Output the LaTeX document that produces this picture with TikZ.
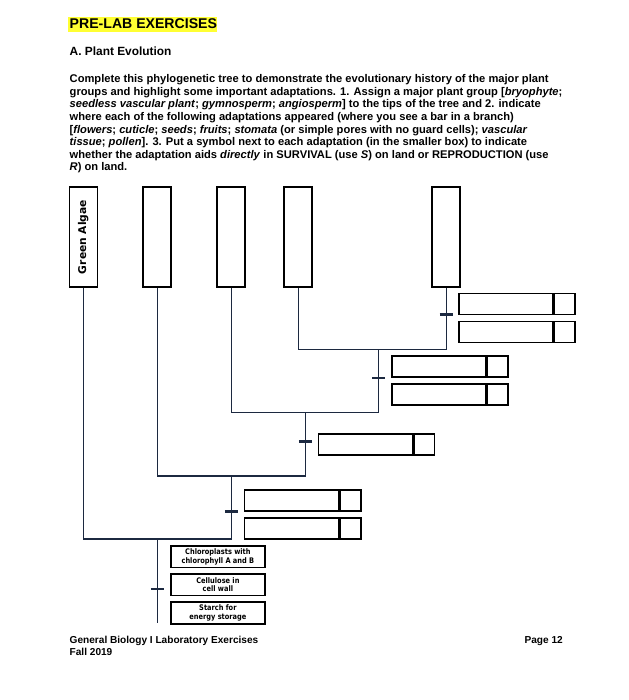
\documentclass[tikz,border=0pt]{standalone}
\usepackage{fontspec}
\setmainfont{Liberation Sans}
\newfontfamily\dvs{DejaVu Sans}
\newfontfamily\dvc[FakeStretch=0.86]{DejaVu Sans}
\definecolor{navy}{HTML}{1C2940}
\definecolor{hl}{HTML}{FFFF33}
\begin{document}
\begin{tikzpicture}[x=1pt,y=-1pt,
  tree/.style={draw=navy,line width=1.3pt,line join=miter},
  tick/.style={draw=navy,line width=2.6pt},
  tipbox/.style={draw=black,line width=1.6pt,minimum width=28pt,minimum height=99.4pt,inner sep=0pt},
  adbig/.style={draw=black,line width=1.6pt,minimum width=94pt,minimum height=21pt,inner sep=0pt},
  adsmall/.style={draw=black,line width=1.6pt,minimum width=20.6pt,minimum height=21pt,inner sep=0pt,anchor=west},
  txtbox/.style={draw=black,line width=1.6pt,minimum width=94.3pt,minimum height=21.5pt,inner sep=0pt,align=center,
     font=\dvc\fontsize{7.7}{8.4}\selectfont\bfseries},
  para/.style={anchor=base west,inner sep=0pt,font=\fontsize{11.15}{13}\selectfont\bfseries},
  foot/.style={inner sep=0pt,font=\fontsize{10.1}{12}\selectfont\bfseries}]
\useasboundingbox[fill=white] (0,0) rectangle (628,700);
% header
\fill[hl] (68,17) rectangle (217,32.5);
\node[anchor=base west,inner sep=0pt,font=\fontsize{14.1}{15}\selectfont\bfseries] (title) at (69.5,29) {PRE-LAB EXERCISES};
\node[anchor=base west,inner sep=0pt,font=\fontsize{11.9}{13}\selectfont\bfseries] (sec) at (69.5,55.7) {A. Plant Evolution};
\node[para] (p1) at (69.5,82.7) {Complete this phylogenetic tree to demonstrate the evolutionary history of the major plant};
\node[para] (p2) at (69.5,95.3) {groups and highlight some important adaptations. 1. Assign a major plant group [\textit{bryophyte};};
\node[para] (p3) at (69.5,107.9) {\textit{seedless vascular plant}; \textit{gymnosperm}; \textit{angiosperm}] to the tips of the tree and 2. indicate};
\node[para] (p4) at (69.5,120.5) {where each of the following adaptations appeared (where you see a bar in a branch)};
\node[para] (p5) at (69.5,133.1) {[\textit{flowers}; \textit{cuticle}; \textit{seeds}; \textit{fruits}; \textit{stomata} (or simple pores with no guard cells); \textit{vascular}};
\node[para] (p6) at (69.5,145.7) {\textit{tissue}; \textit{pollen}]. 3. Put a symbol next to each adaptation (in the smaller box) to indicate};
\node[para] (p7) at (69.5,158.3) {whether the adaptation aids \textit{directly} in SURVIVAL (use \textit{S}) on land or REPRODUCTION (use};
\node[para] (p8) at (69.5,170.9) {\textit{R}) on land.};
% tips
\node[tipbox] (g) at (83.3,237) {\rotatebox{90}{\dvs\fontsize{10.7}{12}\selectfont\bfseries Green Algae}};
\node[tipbox] (t2) at (157.2,237) {};
\node[tipbox] (t3) at (231.2,237) {};
\node[tipbox] (t4) at (298.2,237) {};
\node[tipbox] (t5) at (446.2,237) {};
% junctions
\coordinate (j45) at (378.7,349.3);
\coordinate (j345) at (305.3,412.7);
\coordinate (j2345) at (231.3,476);
\coordinate (jall) at (157.3,539);
\coordinate (root) at (157.3,623.3);
\draw[tree] (t4.south) |- (j45) -| (t5.south);
\draw[tree] (t3.south) |- (j345) -| (j45);
\draw[tree] (t2.south) |- (j2345) -| (j345);
\draw[tree] (g.south) |- (jall) -| (j2345);
\draw[tree] (jall) -- (root);
% ticks
\foreach \x/\y in {446.2/314.7, 378.7/378, 305.3/441.7, 231.3/511.7, 157.3/589}
  \draw[tick] (\x-6.5,\y) -- (\x+6.5,\y);
% adaptation boxes
\node[adbig] (a1) at (505.9,303.8) {};
\node[adsmall] (a1s) at (a1.east) {};
\node[adbig] (a2) at (505.9,332) {};
\node[adsmall] (a2s) at (a2.east) {};
\node[adbig] (a3) at (438.8,366.7) {};
\node[adsmall] (a3s) at (a3.east) {};
\node[adbig] (a4) at (438.8,394.7) {};
\node[adsmall] (a4s) at (a4.east) {};
\node[adbig] (a5) at (365.3,444.3) {};
\node[adsmall] (a5s) at (a5.east) {};
\node[adbig] (a6) at (291.5,500.5) {};
\node[adsmall] (a6s) at (a6.east) {};
\node[adbig] (a7) at (291.5,528.7) {};
\node[adsmall] (a7s) at (a7.east) {};
% basal text boxes
\node[txtbox] (b1) at (217.9,556.7) {Chloroplasts with\\chlorophyll A and B};
\node[txtbox] (b2) at (217.9,584.8) {Cellulose in\\cell wall};
\node[txtbox] (b3) at (217.9,613) {Starch for\\energy storage};
% footer
\node[foot,anchor=base west] (f1) at (69.5,643) {General Biology I Laboratory Exercises};
\node[foot,anchor=base west] (f2) at (69.5,655) {Fall 2019};
\node[foot,anchor=base east] (f3) at (563,643) {Page 12};
\end{tikzpicture}
\end{document}
